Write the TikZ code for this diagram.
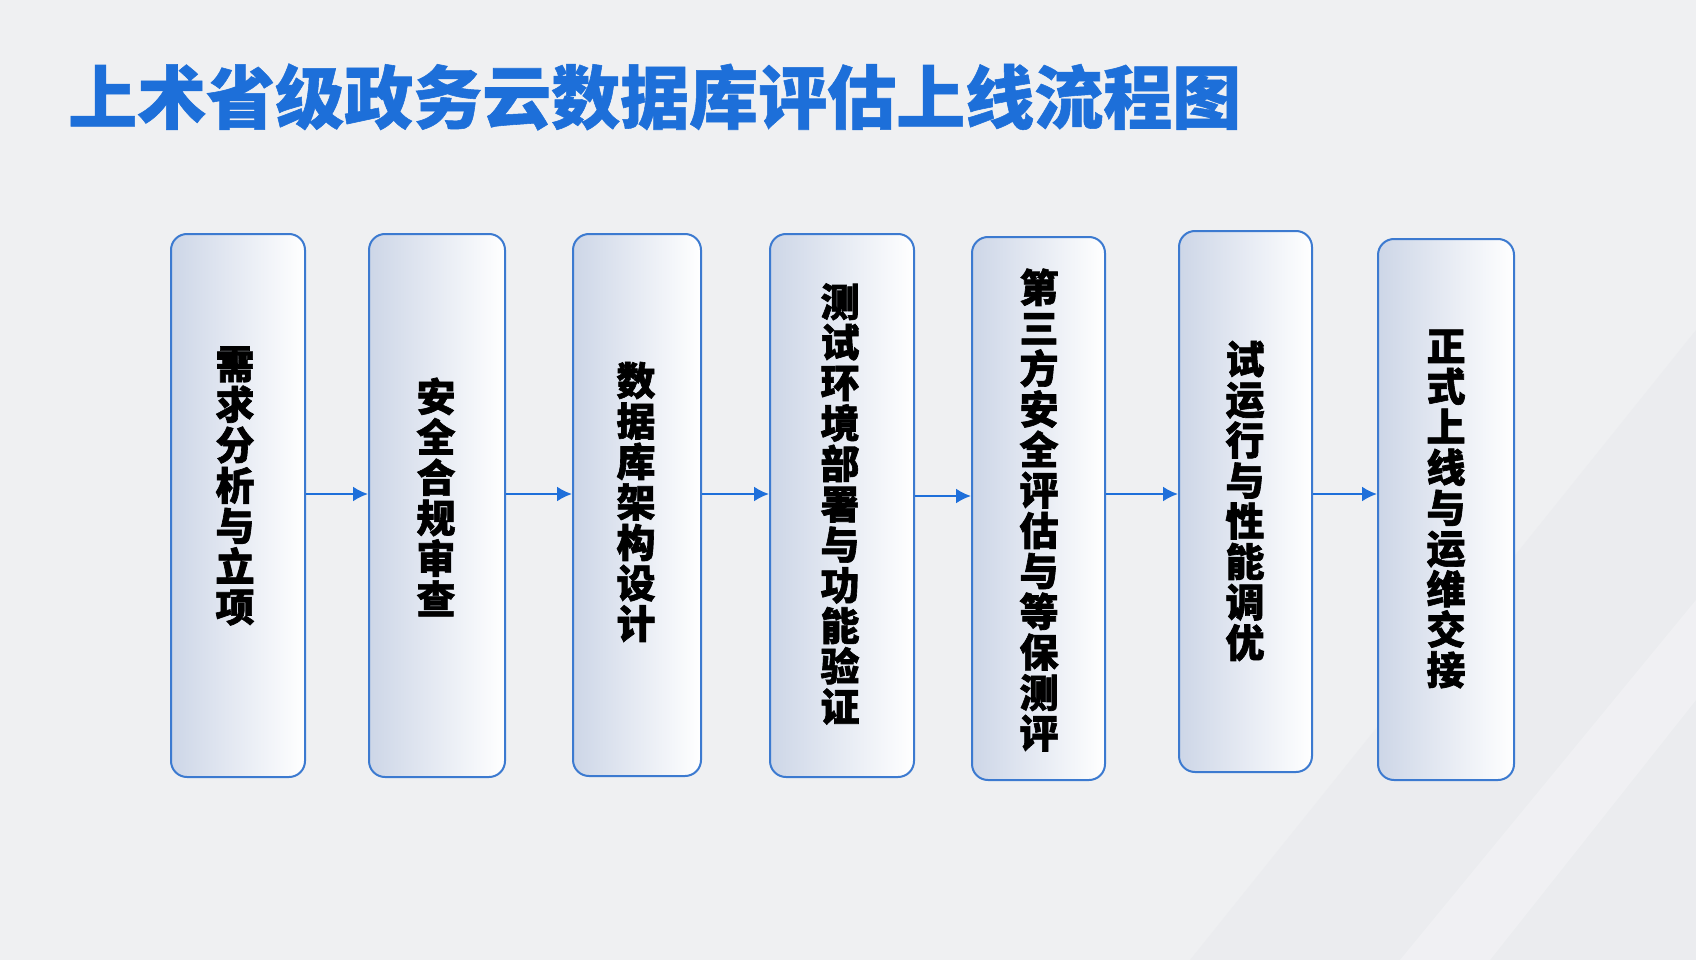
\documentclass[tikz,border=0pt]{standalone}
\usepackage{fontspec}
\newfontfamily\cjk{Noto Sans CJK SC}[BoldFeatures={FakeBold=1.6}]
\newfontfamily\cjktitle{Noto Sans CJK SC}[BoldFeatures={FakeBold=0.8}]
\usetikzlibrary{arrows.meta}
\definecolor{bgc}{HTML}{EFF0F2}
\definecolor{bgd}{HTML}{EAEBEE}
\definecolor{titleblue}{HTML}{1D6FD9}
\definecolor{boxedge}{HTML}{3C7AD0}
\definecolor{boxleft}{HTML}{CDD6E7}
\definecolor{arrowblue}{HTML}{1E6FDA}
\tikzset{
  stepbox/.style={draw=boxedge, line width=2pt, rounded corners=16pt,
    left color=boxleft, right color=white, shading angle=90, inner sep=0pt},
  steptext/.style={font=\cjk\bfseries\fontsize{39}{40.5}\selectfont, align=center, text=black, inner sep=0pt},
  flow/.style={draw=arrowblue, line width=2.2pt, -{Latex[length=15pt,width=15pt]}},
}
\begin{document}
\begin{tikzpicture}[x=1pt,y=-1pt]
\useasboundingbox (0,0) rectangle (1696,960);
\fill[bgc] (0,0) rectangle (1696,960);
\fill[bgd, opacity=0.7] (1190,960) -- (1696,330) -- (1696,960) -- cycle;
\fill[white, opacity=0.25] (1400,960) -- (1696,600) -- (1696,700) -- (1490,960) -- cycle;

\node[anchor=west, font=\cjktitle\bfseries\fontsize{69}{70}\selectfont, text=titleblue, inner sep=0pt] (title) at (68,97) {上术省级政务云数据库评估上线流程图};

\node[stepbox, minimum width=134pt, minimum height=543pt] (b1) at (238,505.5) {};
\node[stepbox, minimum width=136pt, minimum height=543pt] (b2) at (437,505.5) {};
\node[stepbox, minimum width=128pt, minimum height=542pt] (b3) at (637,505) {};
\node[stepbox, minimum width=144pt, minimum height=543pt] (b4) at (842,505.5) {};
\node[stepbox, minimum width=133pt, minimum height=543pt] (b5) at (1038.5,508.5) {};
\node[stepbox, minimum width=133pt, minimum height=541pt] (b6) at (1245.5,501.5) {};
\node[stepbox, minimum width=136pt, minimum height=541pt] (b7) at (1446,509.5) {};

\node[steptext] (t1) at (235,486) {需\\求\\分\\析\\与\\立\\项};
\node[steptext] (t2) at (436,497) {安\\全\\合\\规\\审\\查};
\node[steptext] (t3) at (636,502) {数\\据\\库\\架\\构\\设\\计};
\node[steptext] (t4) at (840,504) {测\\试\\环\\境\\部\\署\\与\\功\\能\\验\\证};
\node[steptext] (t5) at (1039,510) {第\\三\\方\\安\\全\\评\\估\\与\\等\\保\\测\\评};
\node[steptext] (t6) at (1245,501) {试\\运\\行\\与\\性\\能\\调\\优};
\node[steptext] (t7) at (1446,509) {正\\式\\上\\线\\与\\运\\维\\交\\接};

\coordinate (ay) at (0,494);
\coordinate (ay2) at (0,496);
\draw[flow] (b1.east |- ay) -- (b2.west |- ay);
\draw[flow] (b2.east |- ay) -- (b3.west |- ay);
\draw[flow] (b3.east |- ay) -- (b4.west |- ay);
\draw[flow] (b4.east |- ay2) -- (b5.west |- ay2);
\draw[flow] (b5.east |- ay) -- (b6.west |- ay);
\draw[flow] (b6.east |- ay) -- (b7.west |- ay);
\end{tikzpicture}
\end{document}
